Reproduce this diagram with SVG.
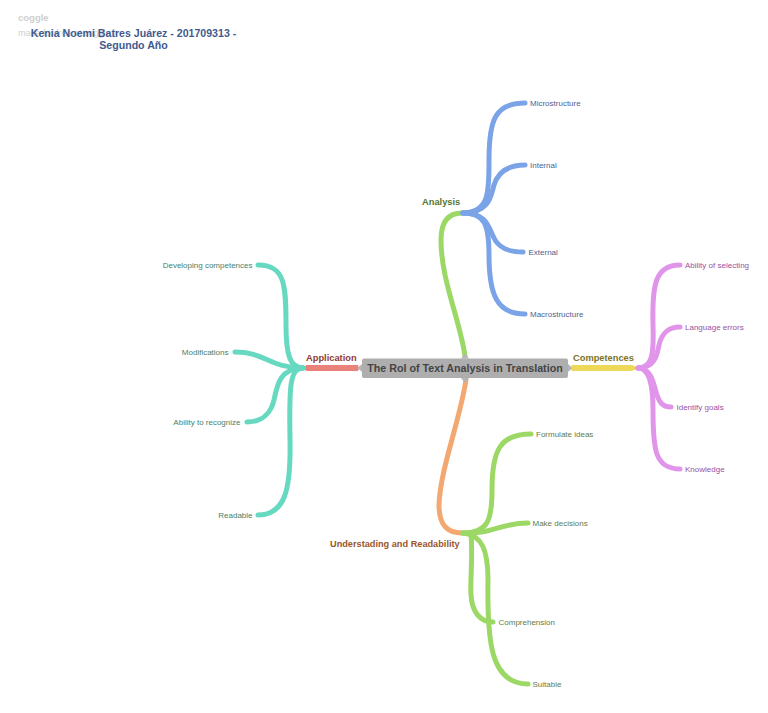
<svg xmlns="http://www.w3.org/2000/svg" width="768" height="713" viewBox="0 0 768 713">
<style>
text{font-family:"Liberation Sans",Arial,sans-serif}
.l{font-size:8px}
.b{font-size:9.300px;font-weight:bold}
.c{fill:none;stroke-width:5;stroke-linecap:round;stroke-linejoin:round}
.blue{stroke:#7ba3e8}.green{stroke:#9cd866}.orange{stroke:#f3a871}.teal{stroke:#66d9c0}.pink{stroke:#e195ea}
.tb{fill:#4d6290}.tg{fill:#637c4b}.tt{fill:#467f6e}.tp{fill:#9a50a4}
</style>
<rect width="768" height="713" fill="#fff"/>
<g id="watermark" fill="#cfcfcf">
<text x="18" y="21" font-size="9.500" font-weight="bold">coggle</text>
<text x="18" y="36" font-size="9">made for free at coggle.it</text>
</g>
<g id="title" fill="#3f5a8f" font-size="10.600" font-weight="bold" text-anchor="middle">
<text x="133.500" y="36.500">Kenia Noemi Batres Juárez - 201709313 -</text>
<text x="133.500" y="48.500">Segundo Año</text>
</g>
<g id="connectors">
<path class="c green" d="M465 356C460 320 441 280 441 240C441 222 448 213 462 213"/>
<path class="c orange" d="M466 380C460 420 440 470 439 505C439 525 447 533 462 533"/>
<path d="M358 365.500H307L302 368L307 370.500H358Z" fill="#e9827a" stroke="#e9827a" stroke-width="1"/>
<path d="M572 365.500H632L637 368L632 370.500H572Z" fill="#eed858" stroke="#eed858" stroke-width="1"/>
<path class="c blue" d="M463 213C490 213 489 190 489 160C489 120 495 103 525 103"/>
<path class="c blue" d="M463 213C490 213 491 195 494 185C498 172 508 165 525 165"/>
<path class="c blue" d="M463 213C485 213 488 225 493 236C498 248 508 252 523 252"/>
<path class="c blue" d="M463 213C485 213 489 225 489 255C489 295 497 314 525 314"/>
<path class="c green" d="M463 533C488 533 492 520 492 490C492 450 500 434 531 434"/>
<path class="c green" d="M463 533C490 535 500 523 528 523"/>
<path class="c green" d="M471 533C473 560 470 580 471 595C472 612 480 622 493 622"/>
<path class="c green" d="M463 533C482 535 488 550 488 580C487 640 490 684 528 684"/>
<path class="c teal" d="M303 368C290 368 286 355 286 325C286 285 285 265 258 265"/>
<path class="c teal" d="M303 368C270 368 265 352 235 352"/>
<path class="c teal" d="M303 368C280 368 277 385 274 400C271 413 262 422 247 422"/>
<path class="c teal" d="M303 368C290 368 289 385 290 440C291 490 285 515 258 515"/>
<path class="c pink" d="M638 368C652 368 654 355 653 325C652 285 655 265 680 265"/>
<path class="c pink" d="M638 368C655 368 657 355 659 345C662 333 668 327 680 327"/>
<path class="c pink" d="M638 368C650 368 653 380 656 392C659 402 662 407 671 407"/>
<path class="c pink" d="M638 368C650 368 653 385 653 410C653 450 655 469 680 469"/>
</g>
<g id="center">
<rect x="362" y="358.500" width="206" height="19.500" rx="2" fill="#aeaeae"/>
<path d="M362 364L357.500 368L362 372ZM568 364L572.500 368L568 372ZM461 358.500L465 353.500L469 358.500ZM461 378L465 383L469 378Z" fill="#b5b5b5"/>
<text x="465" y="371.500" font-size="10.700" font-weight="bold" fill="#444" text-anchor="middle">The Rol of Text Analysis in Translation</text>
</g>
<g id="analysis"><text class="b" x="422" y="205" fill="#56752f">Analysis</text></g>
<g id="understanding"><text x="330" y="547" fill="#99562a" font-size="9.200" font-weight="bold">Understading and Readability</text></g>
<g id="application"><text class="b" x="306" y="361" fill="#913a35">Application</text></g>
<g id="competences"><text class="b" x="573" y="361" fill="#7c7326">Competences</text></g>
<g id="n1"><text class="l tb" x="530" y="106">Microstructure</text></g>
<g id="n2"><text class="l tb" x="530" y="167.500">Internal</text></g>
<g id="n3"><text class="l tb" x="528.500" y="255">External</text></g>
<g id="n4"><text class="l tb" x="530" y="317">Macrostructure</text></g>
<g id="n5"><text class="l tg" x="536" y="437">Formulate ideas</text></g>
<g id="n6"><text class="l tg" x="532.500" y="526">Make decisions</text></g>
<g id="n7"><text class="l tg" x="498.500" y="625">Comprehension</text></g>
<g id="n8"><text class="l tg" x="532.500" y="687">Suitable</text></g>
<g id="n9"><text class="l tt" x="252.500" y="268" text-anchor="end">Developing competences</text></g>
<g id="n10"><text class="l tt" x="228.500" y="355" text-anchor="end">Modifications</text></g>
<g id="n11"><text class="l tt" x="240.500" y="425" text-anchor="end">Ability to recognize</text></g>
<g id="n12"><text class="l tt" x="252.500" y="518" text-anchor="end">Readable</text></g>
<g id="n13"><text class="l tp" x="685" y="268">Ability of selecting</text></g>
<g id="n14"><text class="l tp" x="685" y="330">Language errors</text></g>
<g id="n15"><text class="l tp" x="676.500" y="410">Identify goals</text></g>
<g id="n16"><text class="l tp" x="685" y="472">Knowledge</text></g>
</svg>
